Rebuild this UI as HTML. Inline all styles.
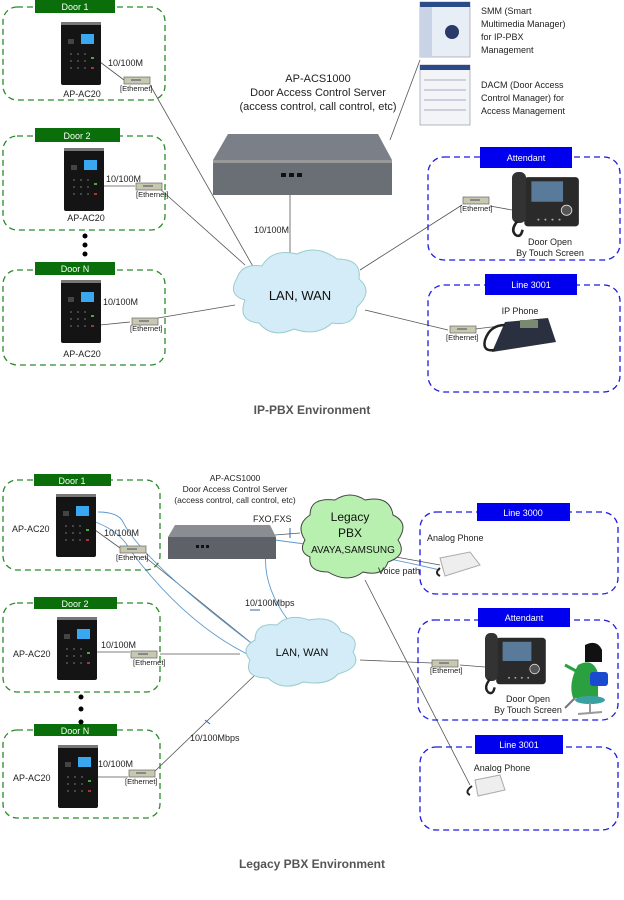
<!DOCTYPE html>
<html><head><meta charset="utf-8"><style>
html,body{margin:0;padding:0;background:#fff;}
svg{display:block;font-family:"Liberation Sans",Arial,sans-serif;}
.t{font-size:9px;fill:#222;}
.e{font-size:7.5px;fill:#222;}
.w{font-size:9px;fill:#fff;}
</style></head><body>
<svg width="624" height="900" viewBox="0 0 624 900" xmlns="http://www.w3.org/2000/svg">
<defs>
<g id="kp">
<rect x="0" y="0" width="40" height="63" rx="2" fill="#141414"/>
<rect x="0" y="0" width="40" height="3" fill="#777"/>
<rect x="20" y="12" width="13" height="10" fill="#3aa8f0"/>
<rect x="7" y="17" width="6" height="5" fill="#444"/>
<g fill="#555"><circle cx="10" cy="32" r="1"/><circle cx="17" cy="32" r="1"/><circle cx="24" cy="32" r="1"/><circle cx="10" cy="39" r="1"/><circle cx="17" cy="39" r="1"/><circle cx="24" cy="39" r="1"/><circle cx="10" cy="46" r="1"/><circle cx="17" cy="46" r="1"/><circle cx="24" cy="46" r="1"/></g>
<rect x="30" y="35" width="3" height="2" fill="#4a4"/><rect x="30" y="45" width="3" height="2" fill="#a33"/>
</g>
<g id="eth">
<rect x="0" y="0" width="26" height="7" fill="#c8c8b0" stroke="#666" stroke-width="0.7"/>
<rect x="7" y="2" width="10" height="2" fill="#888"/>
</g>
<g id="dphone">
<rect x="14" y="6" width="62" height="58" rx="4" fill="#2a2a2a"/>
<rect x="22" y="11" width="36" height="24" fill="#5a7a9a"/>
<rect x="0" y="0" width="16" height="60" rx="7" fill="#333"/>
<circle cx="62" cy="45" r="6" fill="#555" stroke="#ddd" stroke-width="1"/>
<g fill="#aaa"><circle cx="30" cy="56" r="1.2"/><circle cx="38" cy="56" r="1.2"/><circle cx="46" cy="56" r="1.2"/><circle cx="54" cy="56" r="1.2"/></g>
<path d="M6 58 q-8 10 -2 16 q6 4 8 -6" fill="none" stroke="#222" stroke-width="3"/>
</g>
</defs>

<!-- ===== TOP ===== -->
<g stroke="#555" stroke-width="0.8" fill="none">
<line x1="100" y1="62" x2="124" y2="80"/>
<line x1="150" y1="85" x2="255" y2="270"/>
<line x1="103" y1="186" x2="135" y2="186"/>
<line x1="160" y1="189" x2="245" y2="265"/>
<line x1="100" y1="325" x2="130" y2="322"/>
<line x1="158" y1="318" x2="235" y2="305"/>
<line x1="290" y1="195" x2="290" y2="260"/>
<line x1="360" y1="270" x2="462" y2="205"/>
<line x1="490" y1="206" x2="512" y2="210"/>
<line x1="365" y1="310" x2="448" y2="330"/>
<line x1="475" y1="329" x2="500" y2="326"/>
<line x1="390" y1="140" x2="420" y2="60"/>
</g>
<g fill="none" stroke="#2a8a2a" stroke-width="1.3" stroke-dasharray="6,4">
<rect x="3" y="7" width="162" height="93" rx="14"/>
<rect x="3" y="136" width="162" height="94" rx="14"/>
<rect x="3" y="270" width="162" height="95" rx="14"/>
</g>
<g fill="#0a6e0a">
<rect x="35" y="0" width="80" height="13"/>
<rect x="35" y="128" width="85" height="14"/>
<rect x="35" y="262" width="80" height="13"/>
</g>
<text class="w" x="75" y="10" text-anchor="middle">Door 1</text>
<text class="w" x="77" y="139" text-anchor="middle">Door 2</text>
<text class="w" x="75" y="272" text-anchor="middle">Door N</text>
<use href="#kp" x="61" y="22"/>
<use href="#kp" x="64" y="148"/>
<use href="#kp" x="61" y="280"/>
<text class="t" x="82" y="97" text-anchor="middle">AP-AC20</text>
<text class="t" x="86" y="221" text-anchor="middle">AP-AC20</text>
<text class="t" x="82" y="357" text-anchor="middle">AP-AC20</text>
<text class="t" x="108" y="66">10/100M</text>
<text class="t" x="106" y="182">10/100M</text>
<text class="t" x="103" y="305">10/100M</text>
<use href="#eth" x="124" y="77"/><text class="e" x="120" y="91">[Ethernet]</text>
<use href="#eth" x="136" y="183"/><text class="e" x="136" y="197">[Ethernet]</text>
<use href="#eth" x="132" y="318"/><text class="e" x="130" y="331">[Ethernet]</text>
<g fill="#000"><circle cx="85" cy="236" r="2.5"/><circle cx="85" cy="245" r="2.5"/><circle cx="85" cy="254" r="2.5"/></g>
<text x="318" y="82" text-anchor="middle" font-size="11" fill="#222">AP-ACS1000</text>
<text x="318" y="96" text-anchor="middle" font-size="11" fill="#222">Door Access Control Server</text>
<text x="318" y="110" text-anchor="middle" font-size="11" fill="#222">(access control,  call control, etc)</text>
<polygon points="228,134 378,134 392,160 213,160" fill="#7b8088"/>
<rect x="213" y="160" width="179" height="35" fill="#6a6f76"/>
<rect x="213" y="160" width="179" height="3" fill="#999"/>
<g fill="#111"><rect x="281" y="173" width="5" height="4"/><rect x="289" y="173" width="5" height="4"/><rect x="297" y="173" width="5" height="4"/></g>
<text class="t" x="254" y="233">10/100M</text>
<path d="M245 300 q-18 -5 -8 -22 q5 -15 25 -12 q10 -18 35 -12 q20 -10 40 5 q25 0 22 20 q15 12 -2 28 q-2 20 -25 16 q-15 14 -38 6 q-22 10 -35 -6 q-22 -2 -14 -23z" fill="#d4ecf7" stroke="#9cc" stroke-width="1"/>
<text x="300" y="300" text-anchor="middle" font-size="13" fill="#111">LAN, WAN</text>
<rect x="420" y="2" width="50" height="55" fill="#e8eef6" stroke="#99a" stroke-width="0.7"/>
<rect x="420" y="2" width="50" height="5" fill="#2a4a8a"/>
<rect x="420" y="7" width="12" height="50" fill="#c8d4e6"/>
<circle cx="452" cy="32" r="7" fill="#2a3a6a"/>
<rect x="420" y="65" width="50" height="60" fill="#f2f4f8" stroke="#99a" stroke-width="0.7"/>
<rect x="420" y="65" width="50" height="5" fill="#2a4a8a"/>
<g stroke="#aab" stroke-width="1"><line x1="424" y1="80" x2="466" y2="80"/><line x1="424" y1="90" x2="466" y2="90"/><line x1="424" y1="100" x2="466" y2="100"/><line x1="424" y1="110" x2="466" y2="110"/></g>
<text class="t" x="481" y="14">SMM (Smart</text>
<text class="t" x="481" y="27">Multimedia Manager)</text>
<text class="t" x="481" y="40">for IP-PBX</text>
<text class="t" x="481" y="53">Management</text>
<text class="t" x="481" y="88">DACM (Door Access</text>
<text class="t" x="481" y="101">Control Manager) for</text>
<text class="t" x="481" y="114">Access Management</text>
<g fill="none" stroke="#1a1ae0" stroke-width="1.3" stroke-dasharray="6,4">
<rect x="428" y="157" width="192" height="103" rx="16"/>
<rect x="428" y="285" width="192" height="107" rx="16"/>
</g>
<rect x="480" y="147" width="92" height="21" fill="#0000ee"/>
<rect x="485" y="274" width="92" height="21" fill="#0000ee"/>
<text class="w" x="526" y="161" text-anchor="middle">Attendant</text>
<text class="w" x="531" y="288" text-anchor="middle">Line 3001</text>
<use href="#dphone" transform="translate(512,172) scale(0.88,0.85)"/>
<use href="#eth" x="463" y="197"/><text class="e" x="460" y="211">[Ethernet]</text>
<text class="t" x="550" y="245" text-anchor="middle">Door Open</text>
<text class="t" x="550" y="256" text-anchor="middle">By Touch Screen</text>
<text class="t" x="520" y="314" text-anchor="middle">IP Phone</text>
<polygon points="505,322 548,318 556,342 492,352" fill="#2a3040"/>
<rect x="520" y="320" width="18" height="8" fill="#7a8a70"/>
<path d="M505 325 q-15 0 -20 15 q-3 12 10 10" fill="none" stroke="#222" stroke-width="2.5"/>
<use href="#eth" x="450" y="326"/><text class="e" x="446" y="340">[Ethernet]</text>
<text x="312" y="414" text-anchor="middle" font-size="12" font-weight="bold" fill="#555">IP-PBX Environment</text>

<!-- ===== BOTTOM ===== -->
<g stroke="#555" stroke-width="0.8" fill="none">
<line x1="95" y1="530" x2="120" y2="548"/>
<line x1="145" y1="557" x2="260" y2="650"/>
<line x1="93" y1="652" x2="130" y2="652"/>
<line x1="160" y1="654" x2="240" y2="654"/>
<line x1="95" y1="777" x2="128" y2="777"/>
<line x1="154" y1="772" x2="255" y2="675"/>
<line x1="360" y1="660" x2="432" y2="663"/>
<line x1="460" y1="665" x2="485" y2="667"/>
<line x1="365" y1="580" x2="470" y2="785"/>
<line x1="275" y1="535" x2="300" y2="533"/>
<line x1="385" y1="555" x2="440" y2="565"/>
</g>
<g stroke="#5a9ad0" stroke-width="0.9" fill="none">
<path d="M98 512 q20 0 25 10 q20 40 140 130"/>
<path d="M90 520 q30 10 40 30 q60 80 130 110"/>
<path d="M268 540 q-10 40 20 80 q10 30 -5 45"/>
<path d="M275 540 q80 10 165 30"/>
</g>
<g stroke="#3366aa" stroke-width="1"><line x1="290" y1="528" x2="290" y2="538"/><line x1="250" y1="610" x2="260" y2="610"/><line x1="205" y1="720" x2="210" y2="724"/></g>
<g fill="none" stroke="#2a8a2a" stroke-width="1.3" stroke-dasharray="6,4">
<rect x="3" y="480" width="157" height="90" rx="14"/>
<rect x="3" y="603" width="157" height="89" rx="14"/>
<rect x="3" y="730" width="157" height="88" rx="14"/>
</g>
<g fill="#0a6e0a">
<rect x="34" y="474" width="77" height="12"/>
<rect x="34" y="597" width="83" height="12"/>
<rect x="34" y="724" width="83" height="12"/>
</g>
<text class="w" x="72" y="484" text-anchor="middle">Door 1</text>
<text class="w" x="75" y="607" text-anchor="middle">Door 2</text>
<text class="w" x="75" y="734" text-anchor="middle">Door N</text>
<use href="#kp" x="56" y="494"/>
<use href="#kp" x="57" y="617"/>
<use href="#kp" x="58" y="745"/>
<text class="t" x="12" y="532">AP-AC20</text>
<text class="t" x="13" y="657">AP-AC20</text>
<text class="t" x="13" y="781">AP-AC20</text>
<text class="t" x="104" y="536">10/100M</text>
<text class="t" x="101" y="648">10/100M</text>
<text class="t" x="98" y="767">10/100M</text>
<use href="#eth" x="120" y="546"/><text class="e" x="116" y="560">[Ethernet]</text>
<use href="#eth" x="131" y="651"/><text class="e" x="133" y="665">[Ethernet]</text>
<use href="#eth" x="129" y="770"/><text class="e" x="125" y="784">[Ethernet]</text>
<g fill="#000"><circle cx="81" cy="697" r="2.5"/><circle cx="81" cy="709" r="2.5"/><circle cx="81" cy="722" r="2.5"/></g>
<text x="235" y="481" text-anchor="middle" font-size="8.5" fill="#222">AP-ACS1000</text>
<text x="235" y="492" text-anchor="middle" font-size="8.5" fill="#222">Door Access Control Server</text>
<text x="235" y="503" text-anchor="middle" font-size="8.5" fill="#222">(access control,  call control, etc)</text>
<text class="t" x="253" y="522" font-size="8">FXO,FXS</text>
<polygon points="175,525 270,525 276,537 168,537" fill="#8a8d92"/>
<rect x="168" y="537" width="108" height="22" fill="#5e6168"/>
<g fill="#111"><rect x="196" y="545" width="3" height="3"/><rect x="201" y="545" width="3" height="3"/><rect x="206" y="545" width="3" height="3"/></g>
<path d="M305 540 q-10 -15 5 -25 q0 -18 25 -15 q15 -10 30 0 q25 -5 28 15 q17 8 5 25 q10 15 -10 22 q-5 15 -25 10 q-15 12 -35 0 q-20 0 -18 -15 q-12 -5 -5 -17z" fill="#b8f0b0" stroke="#444" stroke-width="1"/>
<text x="350" y="521" text-anchor="middle" font-size="12" fill="#111">Legacy</text>
<text x="350" y="537" text-anchor="middle" font-size="12" fill="#111">PBX</text>
<text x="353" y="553" text-anchor="middle" font-size="10" fill="#111">AVAYA,SAMSUNG</text>
<text class="t" x="378" y="574" font-size="8">Voice path</text>
<text class="t" x="245" y="606" font-size="8">10/100Mbps</text>
<text class="t" x="190" y="741" font-size="8">10/100Mbps</text>
<path d="M255 640 q0 -18 22 -15 q12 -12 32 -5 q25 -5 32 12 q20 5 12 20 q10 15 -15 22 q-10 12 -35 8 q-20 10 -35 -4 q-25 0 -18 -18 q-10 -12 5 -20z" fill="#d4ecf7" stroke="#9cc" stroke-width="1"/>
<text x="302" y="656" text-anchor="middle" font-size="11" fill="#111">LAN, WAN</text>
<g fill="none" stroke="#1a1ae0" stroke-width="1.3" stroke-dasharray="6,4">
<rect x="420" y="512" width="198" height="82" rx="16"/>
<rect x="418" y="620" width="200" height="100" rx="16"/>
<rect x="420" y="747" width="198" height="83" rx="16"/>
</g>
<rect x="477" y="503" width="93" height="18" fill="#0000ee"/>
<rect x="478" y="608" width="92" height="19" fill="#0000ee"/>
<rect x="475" y="735" width="88" height="19" fill="#0000ee"/>
<text class="w" x="523" y="516" text-anchor="middle">Line 3000</text>
<text class="w" x="524" y="621" text-anchor="middle">Attendant</text>
<text class="w" x="519" y="748" text-anchor="middle">Line 3001</text>
<text class="t" x="427" y="541" font-size="8">Analog Phone</text>
<polygon points="440,558 470,552 480,565 445,576" fill="#eee" stroke="#aaa"/>
<path d="M440 568 q-6 5 0 8" fill="none" stroke="#222" stroke-width="2"/>
<use href="#dphone" transform="translate(485,633) scale(0.8,0.8)"/>
<use href="#eth" x="432" y="660"/><text class="e" x="430" y="673">[Ethernet]</text>
<text class="t" x="528" y="702" text-anchor="middle">Door Open</text>
<text class="t" x="528" y="713" text-anchor="middle">By Touch Screen</text>
<path d="M585 645 q12 -6 17 5 l0 12 l-17 0z" fill="#111"/>
<path d="M578 665 q15 -8 20 8 l0 25 l-25 0 q-5 -15 5 -33z" fill="#2aa040"/>
<line x1="578" y1="672" x2="565" y2="665" stroke="#2aa040" stroke-width="3"/>
<rect x="590" y="672" width="18" height="14" rx="3" fill="#1a4ad0"/>
<ellipse cx="590" cy="700" rx="15" ry="4" fill="#3aa0a0"/>
<g stroke="#999" stroke-width="2"><line x1="590" y1="703" x2="590" y2="712"/><line x1="578" y1="714" x2="602" y2="712"/></g>
<line x1="575" y1="698" x2="565" y2="708" stroke="#777" stroke-width="2"/>
<text class="t" x="502" y="771" text-anchor="middle" font-size="8">Analog Phone</text>
<polygon points="475,780 500,775 505,790 478,796" fill="#eee" stroke="#aaa"/>
<path d="M472 786 q-8 6 -2 9" fill="none" stroke="#222" stroke-width="2"/>
<text x="312" y="868" text-anchor="middle" font-size="12" font-weight="bold" fill="#555">Legacy PBX Environment</text>
</svg>
</body></html>
